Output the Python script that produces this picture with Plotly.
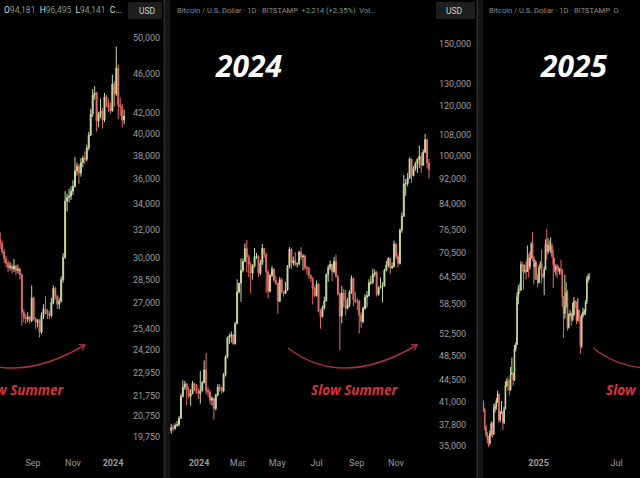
import math
import pandas as pd
import plotly.graph_objects as go

W, H = 640, 478

# =========================================================
# DATA (3-day candles, prices in thousands of USD)
# =========================================================
# ---------- panel 1: Jul 2023 -> Jan 2024 ----------
p1_start = "2023-07-13"
p1_open0 = 31.3
p1_close = [31.0, 30.4, 29.9, 29.6, 29.3, 29.4, 29.2, 29.4, 29.1, 29.2,
            28.8, 26.4, 26.1, 26.0, 26.1, 25.9, 27.3, 26.0, 25.8, 25.9,
            25.2, 26.2, 26.6, 26.5, 26.3, 26.2, 27.0, 27.9, 27.4, 26.9,
            27.1, 28.5, 30.0, 34.2, 34.5, 34.6, 35.0, 35.4, 36.7, 37.1,
            36.5, 37.4, 37.8, 37.7, 38.7, 39.9, 41.9, 43.8, 44.0, 41.2,
            41.9, 42.2, 41.3, 43.6, 43.0, 42.5, 42.2, 44.9, 43.9, 46.6,
            42.8, 42.6, 41.3, 41.7]
p1_high = [31.8, 31.2, 30.6, 30.1, 29.8, 29.7, 29.6, 29.9, 29.5, 29.5,
           29.3, 28.9, 26.6, 26.3, 26.4, 26.2, 28.1, 27.4, 26.1, 26.0,
           26.0, 26.4, 26.9, 27.4, 26.6, 26.5, 27.3, 28.1, 28.0, 27.5,
           27.3, 28.7, 30.3, 35.0, 34.8, 35.2, 35.4, 35.9, 37.9, 37.4,
           37.3, 37.8, 38.0, 38.4, 39.0, 40.2, 42.4, 44.4, 44.7, 44.1,
           42.1, 43.4, 42.5, 44.0, 43.8, 43.4, 43.0, 45.9, 45.2, 49.0,
           47.0, 43.5, 42.9, 42.3]
p1_low = [30.6, 30.2, 29.6, 29.3, 29.0, 29.1, 28.9, 29.0, 28.8, 28.9,
          28.5, 25.6, 25.8, 25.7, 25.8, 25.7, 25.8, 25.9, 25.4, 25.5,
          24.9, 25.1, 26.0, 26.3, 26.0, 26.0, 26.1, 26.9, 27.2, 26.6,
          26.6, 27.0, 28.3, 29.9, 33.4, 34.1, 34.3, 34.7, 35.3, 36.3,
          35.6, 36.2, 37.0, 37.3, 37.5, 38.5, 39.8, 41.6, 43.3, 40.2,
          40.6, 41.5, 40.5, 41.1, 42.6, 42.1, 41.9, 42.1, 42.6, 43.7,
          41.4, 41.7, 40.6, 40.9]

# ---------- panel 2: Nov 2023 -> Dec 2024 ----------
p2_start = "2023-11-19"
p2_open0 = 37.0
p2_close = [37.4, 37.3, 37.7, 37.8, 38.7, 41.9, 43.3, 43.8, 42.9, 41.9,
            42.3, 43.9, 43.6, 42.6, 42.3, 42.8, 44.0, 46.1, 42.8, 42.5,
            41.3, 41.6, 40.1, 42.1, 43.3, 43.2, 42.7, 45.3, 48.3, 51.8,
            52.1, 52.3, 50.7, 54.5, 61.2, 63.1, 66.1, 68.3, 71.5, 69.4,
            67.6, 65.5, 67.2, 69.5, 69.6, 65.4, 67.8, 71.6, 70.0, 65.7,
            61.3, 64.9, 66.4, 63.8, 63.1, 59.1, 63.9, 61.2, 60.8, 61.6,
            67.0, 71.4, 67.9, 68.5, 67.6, 67.7, 70.6, 69.4, 69.6, 66.8,
            66.6, 64.9, 64.2, 61.8, 60.3, 62.9, 57.0, 55.9, 57.7, 59.2,
            65.1, 66.7, 67.6, 65.8, 68.3, 64.6, 60.7, 56.0, 60.9, 59.4,
            57.6, 58.4, 61.2, 64.2, 59.4, 59.1, 59.1, 56.2, 54.9, 57.6,
            60.0, 60.3, 63.2, 63.3, 65.2, 65.6, 60.6, 62.1, 62.2, 62.5,
            66.1, 67.4, 69.0, 66.7, 67.0, 72.7, 69.5, 67.8, 76.5, 80.4,
            90.4, 90.6, 92.3, 98.9, 93.1, 95.6, 97.3, 98.8, 99.9, 96.7,
            101.4, 106.1, 97.5, 95.2]
p2_high = [37.9, 37.8, 38.0, 38.3, 39.0, 42.3, 44.4, 44.3, 44.0, 43.4,
           43.0, 44.3, 44.0, 43.8, 43.1, 45.9, 44.3, 47.7, 49.0, 43.3,
           42.9, 41.9, 41.7, 42.3, 43.8, 43.8, 43.4, 45.6, 48.6, 52.0,
           52.6, 53.0, 52.5, 54.9, 64.0, 63.2, 69.0, 69.0, 72.9, 73.8,
           70.0, 68.2, 67.6, 71.7, 70.4, 69.8, 68.7, 72.7, 71.7, 70.5,
           66.2, 65.3, 67.2, 66.6, 64.8, 63.3, 64.5, 64.3, 61.4, 63.4,
           67.4, 71.9, 71.6, 69.5, 70.6, 68.0, 71.0, 71.9, 70.1, 70.0,
           67.2, 66.9, 65.1, 64.5, 62.4, 63.7, 63.1, 57.4, 58.2, 60.1,
           65.3, 67.4, 68.5, 67.7, 69.4, 70.0, 65.0, 61.0, 62.5, 61.8,
           61.6, 59.8, 61.5, 64.9, 64.4, 61.1, 59.8, 59.4, 56.8, 58.0,
           60.6, 61.3, 64.0, 64.8, 66.5, 66.3, 65.9, 62.4, 64.4, 63.3,
           66.5, 68.4, 69.4, 69.2, 68.0, 73.6, 72.9, 70.3, 76.9, 81.5,
           93.4, 92.0, 94.0, 99.6, 99.0, 96.4, 98.0, 99.2, 103.9, 101.3,
           102.5, 108.3, 106.5, 98.9]
p2_low = [36.6, 36.9, 37.1, 37.5, 37.6, 38.6, 41.7, 42.9, 40.6, 41.6,
          40.5, 42.2, 42.7, 42.3, 41.5, 40.8, 42.6, 43.9, 42.2, 41.8,
          40.7, 40.5, 38.5, 39.8, 41.9, 42.6, 42.3, 42.5, 45.0, 48.1,
          50.6, 50.9, 50.5, 50.5, 54.4, 60.8, 59.0, 65.6, 68.1, 65.6,
          64.5, 60.8, 63.9, 66.8, 68.9, 64.5, 64.9, 67.4, 69.1, 60.9,
          59.7, 61.0, 64.5, 63.3, 62.7, 56.5, 58.9, 60.8, 60.1, 60.7,
          61.4, 66.6, 66.3, 67.2, 67.2, 66.8, 67.3, 68.6, 66.1, 66.1,
          65.1, 64.1, 63.4, 58.4, 59.9, 60.1, 56.8, 53.5, 55.7, 57.3,
          59.0, 63.4, 66.2, 63.5, 65.4, 64.4, 60.3, 49.5, 54.6, 57.8,
          56.1, 57.4, 57.9, 60.7, 58.1, 58.7, 57.2, 52.6, 53.7, 54.6,
          57.3, 57.8, 60.1, 62.7, 62.9, 64.6, 60.1, 60.3, 61.9, 58.9,
          62.3, 65.9, 66.8, 65.3, 66.5, 66.8, 68.8, 66.8, 67.5, 75.7,
          80.2, 86.6, 89.6, 92.0, 90.8, 92.9, 94.8, 94.0, 95.8, 94.2,
          96.5, 101.1, 95.6, 92.2]

# ---------- panel 3: Aug 2024 -> Apr 2025 ----------
p3_start = "2024-08-26"
p3_open0 = 64.0
p3_close = [62.8, 59.4, 58.0, 57.2, 56.6, 58.3, 60.0, 58.2, 62.9, 63.3,
            64.5, 65.8, 60.8, 62.1, 62.3, 60.3, 62.9, 67.6, 68.4, 67.4,
            66.6, 69.9, 70.2, 68.7, 75.6, 76.7, 88.7, 91.0, 90.5, 98.0,
            97.8, 96.0, 96.4, 95.9, 99.8, 97.4, 100.0, 104.4, 100.2, 97.3,
            98.6, 94.2, 92.7, 97.0, 98.3, 94.7, 94.5, 96.5, 104.3, 102.0,
            104.0, 102.7, 103.8, 100.6, 98.0, 96.5, 97.4, 96.6, 96.1, 96.7,
            96.5, 88.6, 84.3, 86.1, 89.9, 80.7, 83.7, 84.3, 82.7, 84.0,
            87.5, 87.2, 82.5, 85.2, 83.5, 76.3, 83.7, 84.6, 84.9, 87.5,
            93.7, 94.6, 94.3]
p3_high = [64.5, 63.0, 59.8, 58.5, 57.8, 58.8, 60.5, 60.3, 63.8, 64.0,
           65.0, 66.5, 65.9, 62.5, 64.4, 62.3, 63.3, 68.4, 69.0, 69.4,
           68.8, 71.5, 73.6, 70.0, 76.5, 77.2, 90.0, 92.0, 92.5, 99.0,
           98.8, 98.0, 98.0, 98.8, 103.9, 101.3, 102.0, 105.0, 108.3, 100.5,
           99.5, 98.9, 95.2, 97.8, 99.0, 102.7, 95.4, 97.4, 105.9, 109.4,
           106.3, 105.5, 106.5, 104.7, 102.5, 100.0, 98.0, 98.2, 97.7, 97.0,
           99.5, 96.5, 89.0, 95.0, 92.8, 90.6, 84.3, 85.2, 84.6, 87.2,
           88.7, 87.8, 87.5, 88.4, 85.3, 83.6, 84.2, 85.8, 85.4, 87.8,
           94.5, 95.3, 95.5]
p3_low = [62.3, 58.8, 57.6, 56.5, 55.9, 56.2, 57.8, 57.5, 58.0, 62.2,
          62.7, 64.0, 60.2, 60.4, 61.9, 58.9, 60.0, 62.8, 67.2, 66.5,
          65.5, 66.5, 69.8, 67.5, 68.5, 75.0, 76.5, 86.7, 89.5, 90.5,
          95.8, 90.8, 95.5, 93.6, 95.8, 94.2, 96.5, 99.8, 99.0, 92.2,
          93.5, 93.5, 91.3, 92.5, 96.8, 92.5, 93.9, 89.2, 96.3, 99.5,
          101.2, 102.0, 101.5, 100.0, 91.2, 95.7, 94.8, 94.1, 95.9, 95.0,
          95.0, 86.1, 78.2, 83.0, 85.8, 80.0, 80.5, 83.6, 81.2, 82.3,
          83.6, 85.8, 81.6, 82.3, 81.8, 74.5, 75.8, 83.2, 83.9, 83.9,
          86.8, 92.7, 93.5]

# ---------- axis labels ----------
p1_yticks = [50000, 46000, 42000, 40000, 38000, 36000, 34000, 32000, 30000,
             28500, 27000, 25400, 24200, 22950, 21750, 20750, 19750]
p2_yticks = [150000, 130000, 120000, 108000, 100000, 92000, 84000, 76500,
             70500, 64500, 58500, 52500, 48500, 44500, 41000, 37800, 35000]
p1_xticks = ["2023-09-01", "2023-11-01", "2024-01-01"]
p1_xlabels = ["Sep", "Nov", "<b>2024</b>"]
p2_xticks = ["2024-01-01", "2024-03-01", "2024-05-01", "2024-07-01",
             "2024-09-01", "2024-11-01"]
p2_xlabels = ["<b>2024</b>", "Mar", "May", "Jul", "Sep", "Nov"]
p3_xticks = ["2025-01-01", "2025-07-01"]
p3_xlabels = ["<b>2025</b>", "Jul"]

UP = "#c4dca0"
DOWN = "#e46c6a"
TICK = "#9c9c9c"
FONT = "Roboto"


def px(x):
    return x / W


def py(y):
    return 1 - y / H


def log_range(v1, y1, v2, y2, top=22, bottom=452):
    # two known (price, pixel) pairs -> log10 range of the plot area
    k = (y2 - y1) / (math.log10(v1) - math.log10(v2))
    return [math.log10(v2) - (bottom - y2) / k, math.log10(v1) + (y1 - top) / k]


def candles(start, open0, close, high, low, xa, ya):
    dates = pd.date_range(start, periods=len(close), freq="3D")
    opens = [open0] + close[:-1]
    return go.Candlestick(
        x=dates,
        open=[v * 1000 for v in opens],
        high=[v * 1000 for v in high],
        low=[v * 1000 for v in low],
        close=[v * 1000 for v in close],
        xaxis=xa, yaxis=ya,
        increasing=dict(line=dict(color=UP, width=1), fillcolor=UP),
        decreasing=dict(line=dict(color=DOWN, width=1), fillcolor=DOWN),
        whiskerwidth=0,
        hoverinfo="skip",
    )


fig = go.Figure()
fig.add_trace(candles(p1_start, p1_open0, p1_close, p1_high, p1_low, "x", "y"))
fig.add_trace(candles(p2_start, p2_open0, p2_close, p2_high, p2_low, "x2", "y2"))
fig.add_trace(candles(p3_start, p3_open0, p3_close, p3_high, p3_low, "x3", "y3"))

xcommon = dict(showgrid=False, zeroline=False, showline=False, ticks="",
               automargin=False, rangeslider=dict(visible=False),
               tickfont=dict(family=FONT, size=9, color=TICK),
               ticklabelstandoff=4)
ycommon = dict(type="log", side="right", showgrid=False, zeroline=False,
               showline=False, ticks="", automargin=False,
               domain=[py(452), py(22)],
               tickfont=dict(family=FONT, size=9, color=TICK),
               ticklabelstandoff=5)

fig.update_layout(
    width=W, height=H,
    margin=dict(l=0, r=0, t=0, b=0),
    paper_bgcolor="#000000",
    plot_bgcolor="#000000",
    showlegend=False,
    hovermode=False,
    xaxis=dict(xcommon, domain=[0, px(127)], anchor="y",
               range=["2023-07-12 16:00", "2024-01-22 08:00"],
               tickvals=p1_xticks, ticktext=p1_xlabels),
    xaxis2=dict(xcommon, domain=[px(170), px(433)], anchor="y2",
                range=["2023-11-17 02:00", "2024-12-28 05:00"],
                tickvals=p2_xticks, ticktext=p2_xlabels),
    xaxis3=dict(xcommon, domain=[px(483), 1], anchor="y3",
                range=["2024-08-25", "2025-08-24 08:00"],
                tickvals=p3_xticks, ticktext=p3_xlabels),
    yaxis=dict(ycommon, anchor="x",
               range=log_range(50000, 38, 19750, 437),
               tickvals=p1_yticks, ticktext=[f"{v:,}" for v in p1_yticks]),
    yaxis2=dict(ycommon, anchor="x2",
                range=log_range(150000, 44, 35000, 446),
                tickvals=p2_yticks, ticktext=[f"{v:,}" for v in p2_yticks]),
    yaxis3=dict(ycommon, anchor="x3", showticklabels=False,
                range=log_range(109000, 230, 55900, 447)),
)

shapes = []
# panel separators
for x0, x1 in [(163, 170), (476, 483)]:
    shapes.append(dict(type="rect", xref="paper", yref="paper",
                       x0=px(x0), x1=px(x1), y0=0, y1=1,
                       fillcolor="#161616", line=dict(width=0), layer="above"))
    shapes.append(dict(type="line", xref="paper", yref="paper",
                       x0=px(x0 + 1.5), x1=px(x0 + 1.5), y0=0, y1=1,
                       line=dict(color="#2c2c2c", width=1), layer="above"))
# "USD" boxes
for x0, x1 in [(128, 162), (436, 475)]:
    shapes.append(dict(type="rect", xref="paper", yref="paper",
                       x0=px(x0), x1=px(x1), y0=py(19), y1=py(2),
                       fillcolor="#1e1e1e", line=dict(width=0), layer="above"))


# red "slow summer" arcs (quadratic curve + small arrow head)
def arc(dx):
    p0 = (288 + dx, 348)
    b = (347 + dx, 368)
    p2 = (417 + dx, 345)
    c = (2 * b[0] - (p0[0] + p2[0]) / 2, 2 * b[1] - (p0[1] + p2[1]) / 2)
    path = (f"M {px(p0[0])},{py(p0[1])} Q {px(c[0])},{py(c[1])} "
            f"{px(p2[0])},{py(p2[1])}")
    out = [dict(type="path", xref="paper", yref="paper", path=path,
                line=dict(color="#a3323a", width=1.5), layer="above")]
    tx, ty = p2[0] - c[0], p2[1] - c[1]
    n = math.hypot(tx, ty)
    bx, by = -tx / n, -ty / n
    pts = []
    for a in (math.radians(32), math.radians(-32)):
        rx = bx * math.cos(a) - by * math.sin(a)
        ry = bx * math.sin(a) + by * math.cos(a)
        pts.append((p2[0] + 6 * rx, p2[1] + 6 * ry))
    head = (f"M {px(pts[0][0])},{py(pts[0][1])} L {px(p2[0])},{py(p2[1])} "
            f"L {px(pts[1][0])},{py(pts[1][1])}")
    out.append(dict(type="path", xref="paper", yref="paper", path=head,
                    line=dict(color="#a3323a", width=1.5), layer="above"))
    return out


for dx in (-332, 0, 305):
    shapes += arc(dx)

fig.update_layout(shapes=shapes)

# ---------- text ----------
ann = []
hdr = dict(xref="paper", yref="paper", showarrow=False, xanchor="left",
           yanchor="middle")
ann.append(dict(hdr, x=px(2), y=py(10),
                text=("<span style='color:#d8d8d8'>O</span>"
                      "<span style='color:#7f9a86'>94,181</span>  "
                      "<span style='color:#d8d8d8'>H</span>"
                      "<span style='color:#7f9a86'>96,495</span>  "
                      "<span style='color:#d8d8d8'>L</span>"
                      "<span style='color:#7f9a86'>94,141</span>  "
                      "<span style='color:#d8d8d8'>C...</span>"),
                font=dict(family=FONT, size=8.5, color="#d8d8d8")))
ann.append(dict(hdr, x=px(175), y=py(10),
                text=("Bitcoin / U.S. Dollar · 1D · BITSTAMP  "
                      "<span style='color:#7f9a86'>+2,214 (+2.35%)</span>  Vol..."),
                font=dict(family=FONT, size=7.5, color="#8e8e8e")))
ann.append(dict(hdr, x=px(487), y=py(10),
                text="Bitcoin / U.S. Dollar · 1D · BITSTAMP  O",
                font=dict(family=FONT, size=7.5, color="#8e8e8e")))
for x in (137, 444):
    ann.append(dict(hdr, x=px(x), y=py(11), text="USD",
                    font=dict(family=FONT, size=8.5, color="#d0d0d0")))

for x, label in [(249, "2024"), (574, "2025")]:
    ann.append(dict(xref="paper", yref="paper", showarrow=False,
                    x=px(x), y=py(65), xanchor="center", yanchor="middle",
                    text=f"<b><i>{label}</i></b>",
                    font=dict(family="Open Sans", size=30, color="#ffffff")))

for x in (20, 354, 649):
    ann.append(dict(xref="paper", yref="paper", showarrow=False,
                    x=px(x), y=py(390), xanchor="center", yanchor="middle",
                    text="<b><i>Slow Summer</i></b>",
                    font=dict(family="Open Sans", size=13.5, color="#d8333a")))

fig.update_layout(annotations=ann)

# the page's default body margin would shift the 640x478 figure by 8px
fig.write_html("out.html",
               config={"displayModeBar": False},
               post_script="document.body.style.margin='0';"
                           "document.body.style.background='#000';")
